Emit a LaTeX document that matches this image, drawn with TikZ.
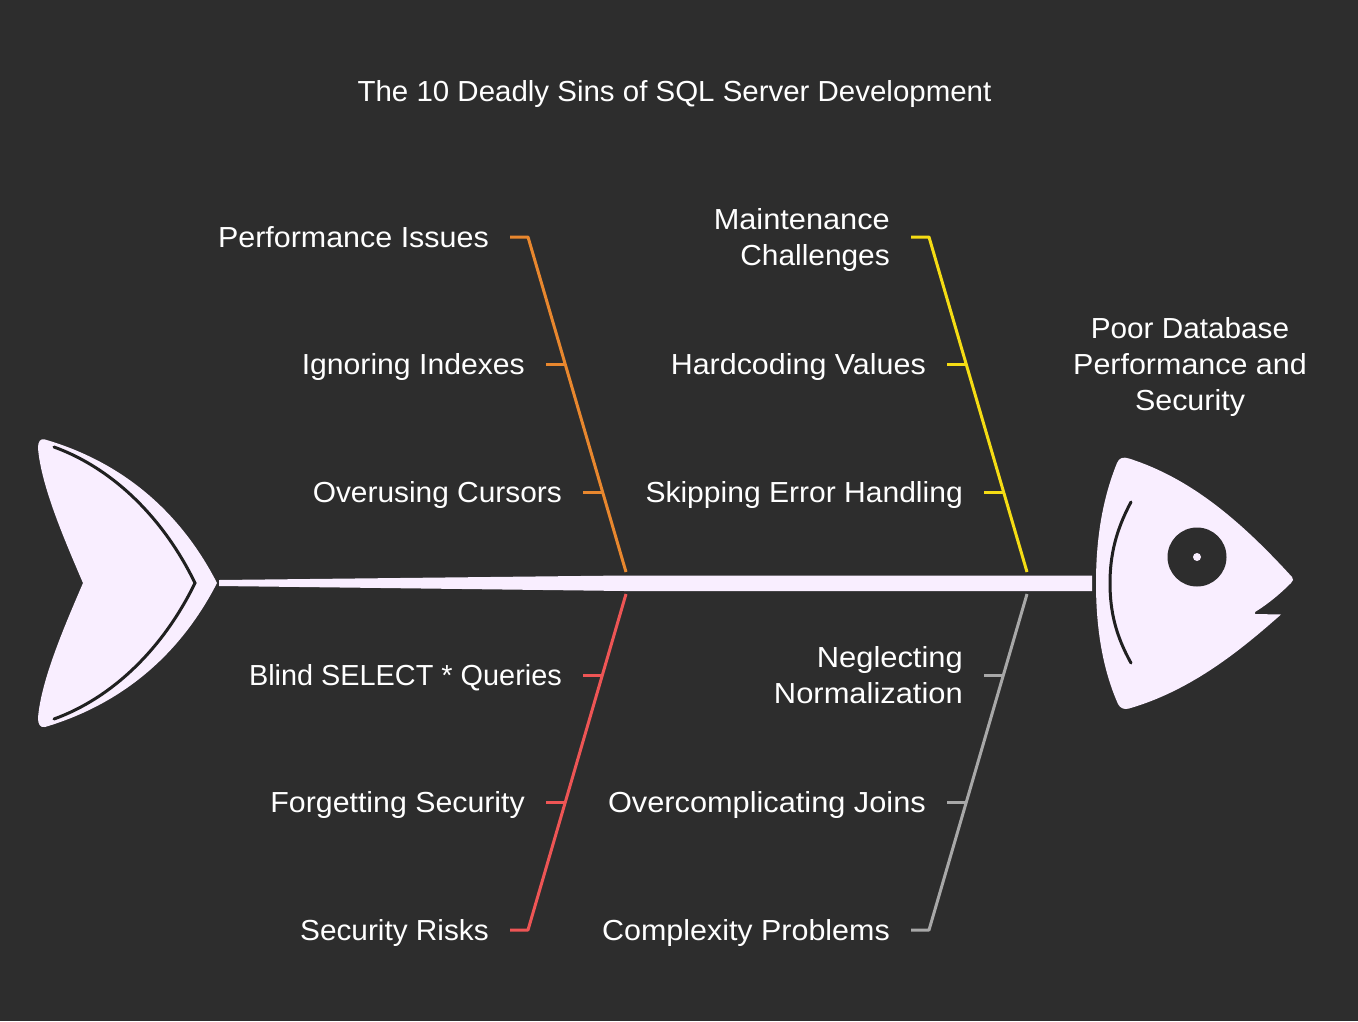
\documentclass[tikz,border=0pt]{standalone}
\usepackage{fontspec}
\setmainfont{Liberation Sans}
\definecolor{bgc}{HTML}{2D2D2D}
\definecolor{inkc}{HTML}{202020}
\definecolor{fishc}{HTML}{F9EEFF}
\definecolor{orangec}{HTML}{E8872E}
\definecolor{yellowc}{HTML}{F5DC14}
\definecolor{redc}{HTML}{EE5555}
\definecolor{grayc}{HTML}{A8A8A8}
\newcommand{\lstrut}{\rule[-7pt]{0pt}{34pt}}
\tikzset{
  lab/.style={anchor=east,inner xsep=21pt,inner ysep=0pt,align=right,text=white,font=\fontsize{29}{36}\selectfont\addfontfeatures{FakeStretch=#1}},
  plain/.style={inner sep=0pt,align=center,text=white,font=\fontsize{29}{36}\selectfont\addfontfeatures{FakeStretch=#1}},
  bone/.style={line width=3pt,line join=round,line cap=butt},
  fishbody/.style={fill=fishc,draw=none},
  fishline/.style={draw=inkc,line width=3pt,line cap=round,line join=miter}
}
\begin{document}
\begin{tikzpicture}[x=1pt,y=-1pt]
\fill[bgc] (0,0) rectangle (1358,1021);
\useasboundingbox (0,0) rectangle (1358,1021);
% title
\node[plain=1.016] (title) at (674.5,94) {The 10 Deadly Sins of SQL Server Development};
\node[plain=1.05] (effect) at (1190,367) {{\addfontfeatures{FakeStretch=1.025}Poor Database}\\Performance and\\Security};
% spine
\fill[fishbody] (219,580) -- (625,575.5) -- (1092,575.5) -- (1092,591) -- (625,591) -- (219,586) -- cycle;
% tail
\path[fishbody] (45,439.5) .. controls (122,462) and (180,511) .. (217,583)
  .. controls (180,655) and (122,704) .. (45,727)
  .. controls (40,728) and (38,724) .. (38,718)
  .. controls (41,680) and (65,625) .. (83,583)
  .. controls (65,541) and (41,486) .. (38,448)
  .. controls (38,442) and (40,438) .. (45,439.5) -- cycle;
\draw[fishline] (54,447) .. controls (112,468) and (163,517) .. (195,583)
  .. controls (163,649) and (112,698) .. (54,719);
% head
\path[fishbody] (1129,458.5) .. controls (1190,478) and (1240,520) .. (1292,577)
  .. controls (1294,579) and (1293,581) .. (1291,583)
  .. controls (1280,594) and (1268,604) .. (1255,612)
  -- (1255,614) -- (1281,614.5)
  .. controls (1243,648) and (1193,690) .. (1129,708.5)
  .. controls (1124,710) and (1120,708) .. (1118,704)
  .. controls (1103,670) and (1096,630) .. (1096,583)
  .. controls (1096,540) and (1102,500) .. (1117,463)
  .. controls (1119,458) and (1123,456.5) .. (1129,458.5) -- cycle;
\draw[fishline] (1131,502) .. controls (1116,530) and (1110,555) .. (1110,583)
  .. controls (1110,612) and (1116,636) .. (1131,663);
\fill[bgc] (1197,557) circle (29.5);
\fill[fishc] (1197,557) circle (4);
% junctions
\coordinate (oEnd) at (626,572); \coordinate (oTop) at (528,237);
\coordinate (yEnd) at (1027,572); \coordinate (yTop) at (929,237);
\coordinate (rEnd) at (626,594); \coordinate (rBot) at (528,930);
\coordinate (gEnd) at (1027,594); \coordinate (gBot) at (929,930);
\coordinate (o2) at (565.3,364); \coordinate (o3) at (602.7,492);
\coordinate (y2) at (966.3,364); \coordinate (y3) at (1003.7,492);
\coordinate (r1) at (602.7,675); \coordinate (r2) at (565.3,802);
\coordinate (g1) at (1003.7,675); \coordinate (g2) at (966.3,802);
% labels
\node[lab=1.05] (perf) at (510,237) {\lstrut Performance Issues};
\node[lab=1.04] (idx) at (546,364) {\lstrut Ignoring Indexes};
\node[lab=1.03] (cur) at (583,492) {\lstrut Overusing Cursors};
\node[lab=1.06] (maint) at (911,237) {\lstrut Maintenance\\\lstrut{\addfontfeatures{FakeStretch=1.03}Challenges}};
\node[lab=1.05] (hard) at (947,364) {\lstrut Hardcoding Values};
\node[lab=1.036] (err) at (984,492) {\lstrut Skipping Error Handling};
\node[lab=0.995] (blind) at (583,675) {\lstrut Blind SELECT * Queries};
\node[lab=1.045] (forg) at (546,802) {\lstrut Forgetting Security};
\node[lab=1.027] (risk) at (510,930) {\lstrut Security Risks};
\node[lab=1.065] (norm) at (984,675) {\lstrut Neglecting\\\lstrut Normalization};
\node[lab=1.06] (joins) at (947,802) {\lstrut Overcomplicating Joins};
\node[lab=1.05] (cplx) at (911,930) {\lstrut Complexity Problems};
% connectors
\draw[bone,orangec] (perf.east) -- (oTop) -- (oEnd);
\draw[bone,orangec] (idx.east) -- (o2);
\draw[bone,orangec] (cur.east) -- (o3);
\draw[bone,yellowc] (maint.east) -- (yTop) -- (yEnd);
\draw[bone,yellowc] (hard.east) -- (y2);
\draw[bone,yellowc] (err.east) -- (y3);
\draw[bone,redc] (risk.east) -- (rBot) -- (rEnd);
\draw[bone,redc] (blind.east) -- (r1);
\draw[bone,redc] (forg.east) -- (r2);
\draw[bone,grayc] (cplx.east) -- (gBot) -- (gEnd);
\draw[bone,grayc] (norm.east) -- (g1);
\draw[bone,grayc] (joins.east) -- (g2);
\end{tikzpicture}
\end{document}
